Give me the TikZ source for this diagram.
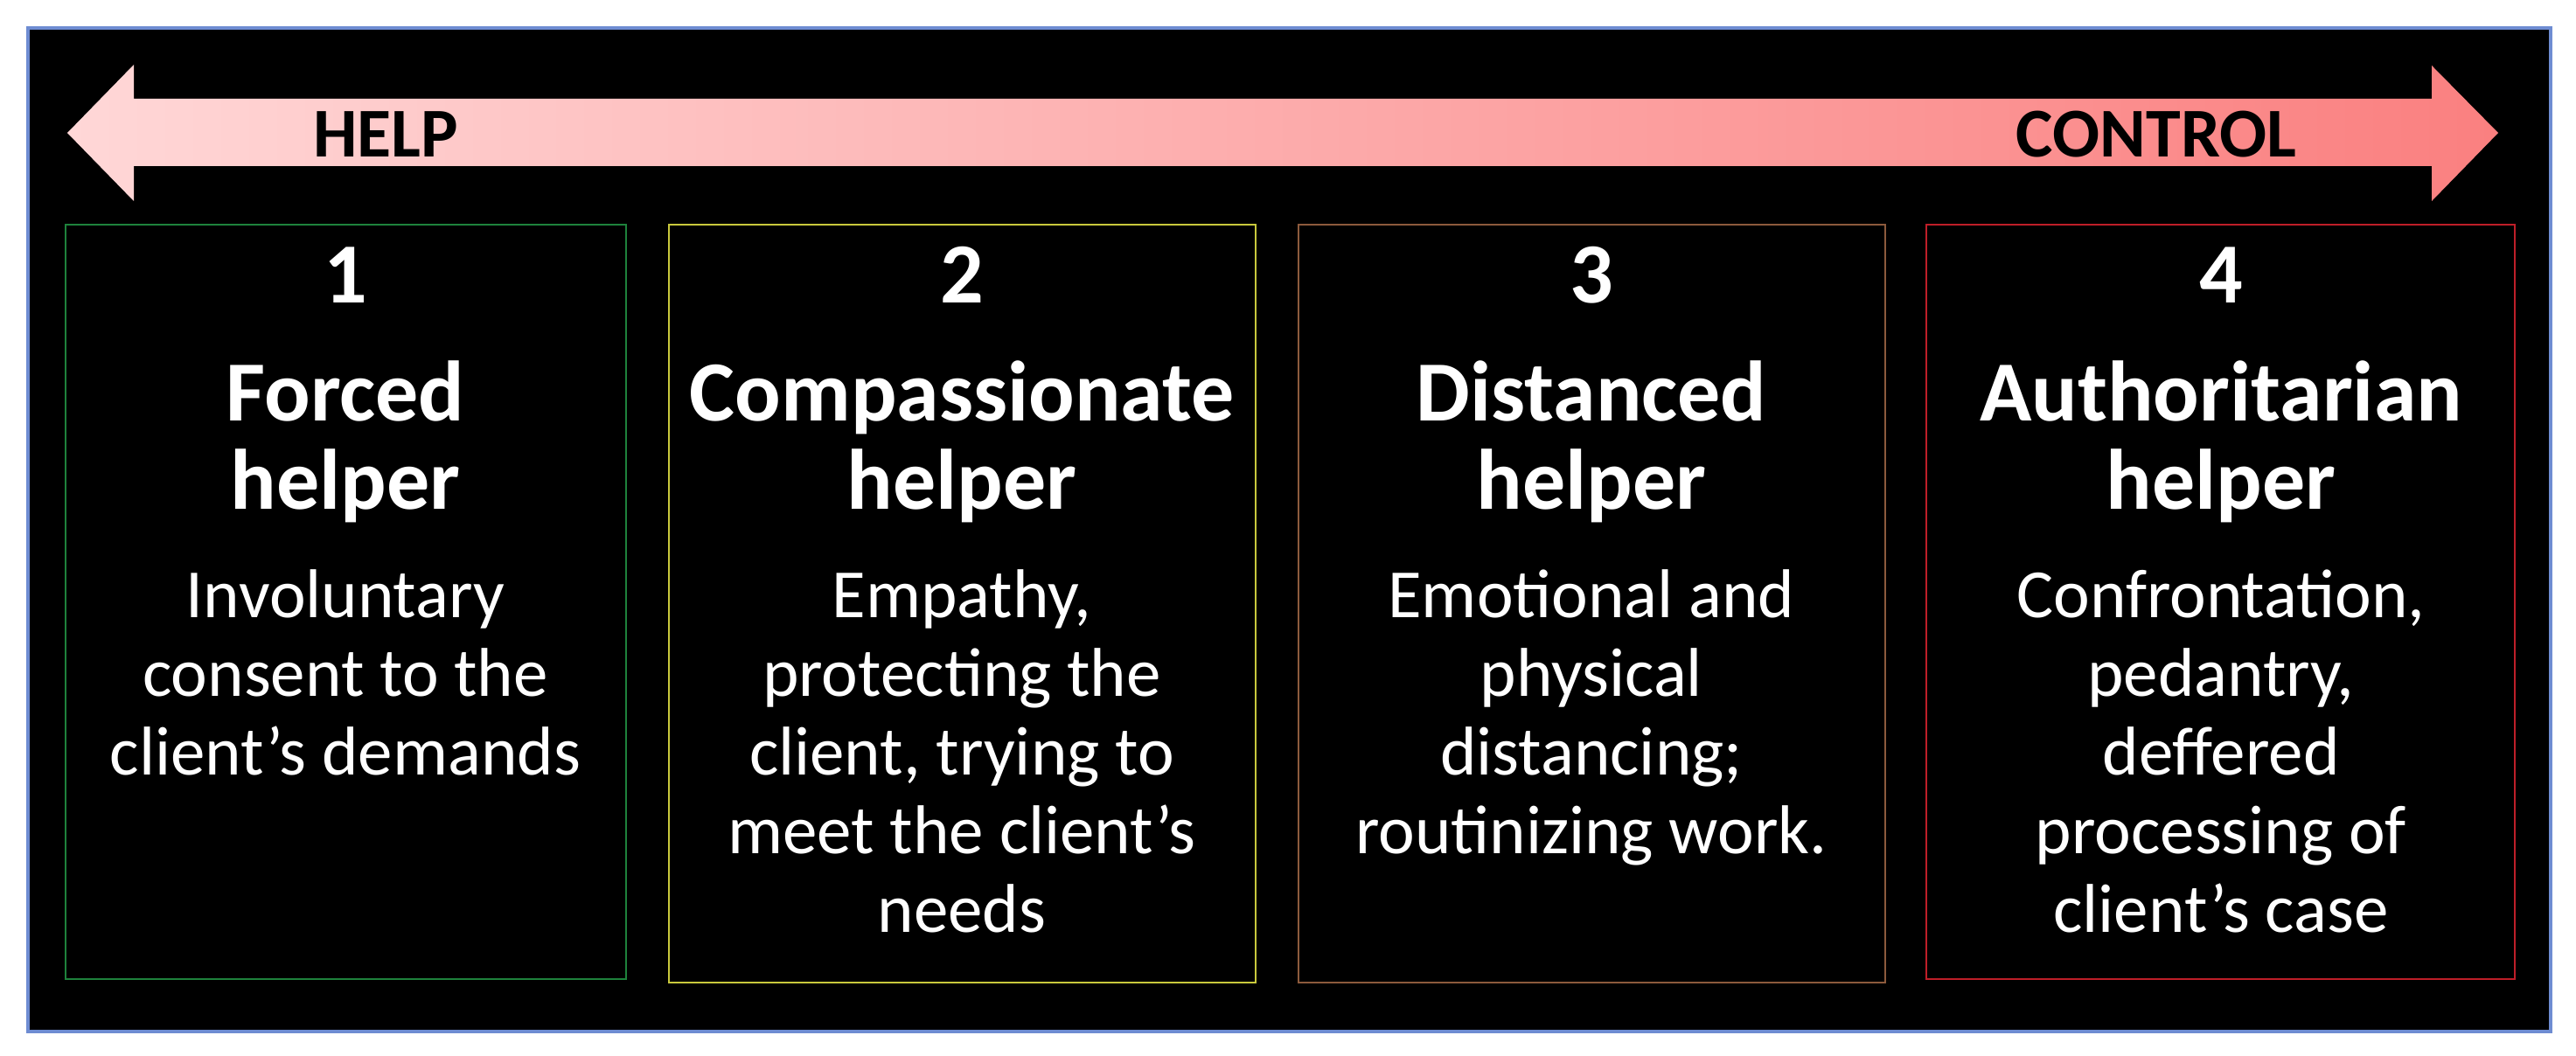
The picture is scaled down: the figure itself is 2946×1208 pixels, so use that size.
\documentclass[tikz,border=0pt]{standalone}
\usepackage{fontspec}
\setmainfont{Carlito}
\newcommand{\mylines}[1]{\begin{tabular}[t]{@{}c@{}}#1\end{tabular}}
\begin{document}
\begin{tikzpicture}[x=0.5pt,y=-0.5pt,
  card/.style={draw,line width=1.2pt},
  num/.style={anchor=base,inner sep=0pt,text=white,font=\bfseries\fontsize{49}{50}\selectfont},
  ttl/.style={anchor=base,inner sep=0pt,text=white,font=\bfseries\fontsize{49}{50.5}\selectfont},
  body/.style={anchor=base,inner sep=0pt,text=white,font=\fontsize{39.5}{45}\selectfont},
  lbl/.style={anchor=base,text=black,font=\bfseries\fontsize{40}{40}\selectfont}]
\definecolor{bord}{RGB}{110,140,210}
\definecolor{cgreen}{RGB}{30,130,60}
\definecolor{cyellow}{RGB}{200,200,60}
\definecolor{cbrown}{RGB}{140,90,60}
\definecolor{cred}{RGB}{190,30,40}
\definecolor{pinkL}{RGB}{255,215,215}
\definecolor{pinkR}{RGB}{250,128,128}
\useasboundingbox (0,0) rectangle (2946,1208);
\fill[white] (0,0) rectangle (2946,1208);
\draw[fill=black,draw=bord,line width=2pt] (32,32) rectangle (2917,1180);
\shade[left color=pinkL,right color=pinkR]
  (77,152) -- (153,74) -- (153,113) -- (2781,113) -- (2781,75) -- (2857,152)
  -- (2781,230) -- (2781,190) -- (153,190) -- (153,230) -- cycle;
\node[lbl] (help) at (441,180) {HELP};
\node[lbl] (ctrl) at (2466,180) {CONTROL};
\draw[card,cgreen] (75,257) rectangle (716,1120);
\draw[card,cyellow] (765,257) rectangle (1436,1124);
\draw[card,cbrown] (1485,257) rectangle (2156,1124);
\draw[card,cred] (2203,257) rectangle (2876,1120);
\node[num] (n1) at (395,347) {1};
\node[num] (n2) at (1100,347) {2};
\node[num] (n3) at (1820,347) {3};
\node[num] (n4) at (2540,347) {4};
\node[ttl] (t1) at (395,482) {\mylines{Forced\\helper}};
\node[ttl] (t2) at (1100,482) {\mylines{Compassionate\\helper}};
\node[ttl] (t3) at (1820,482) {\mylines{Distanced\\helper}};
\node[ttl] (t4) at (2540,482) {\mylines{Authoritarian\\helper}};
\node[body] (b1) at (395,706) {\mylines{Involuntary\\consent to the\\client’s demands}};
\node[body] (b2) at (1100,706) {\mylines{Empathy,\\protecting the\\client, trying to\\meet the client’s\\needs}};
\node[body] (b3) at (1820,706) {\mylines{Emotional and\\physical\\distancing;\\routinizing work.}};
\node[body] (b4) at (2540,706) {\mylines{Confrontation,\\pedantry,\\deffered\\processing of\\client’s case}};
\end{tikzpicture}
\end{document}
